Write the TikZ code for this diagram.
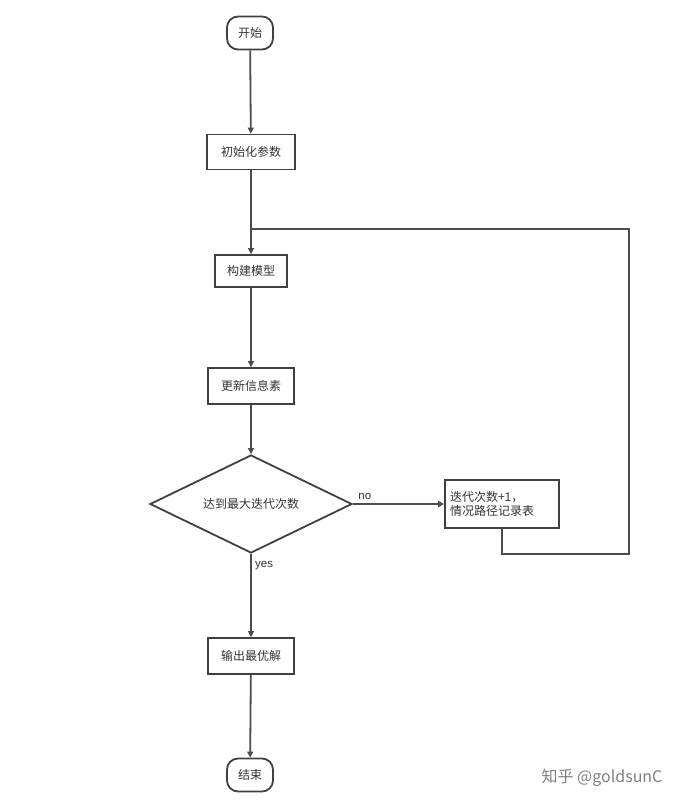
\documentclass[tikz,border=0pt]{standalone}
\usepackage{fontspec}
\setmainfont{Liberation Sans}
\newfontfamily\cjk{Noto Sans CJK SC}
\usetikzlibrary{positioning, arrows.meta, shapes.geometric}

\begin{document}
\begin{tikzpicture}[
    x=1pt, y=-1pt,
    % Styles
    flowline/.style={draw=black!70, line width=1.8pt},
    flowarrow/.style={-{Triangle[length=6pt,width=6pt]}, draw=black!70, line width=1.8pt},
    terminal/.style={draw=black!75, line width=1.8pt, rounded corners=11pt, minimum width=46pt, minimum height=33pt, inner sep=2pt, font=\cjk\fontsize{12}{14}\selectfont, text=black!80},
    process/.style={draw=black!75, line width=1.8pt, minimum height=35pt, inner sep=2pt, font=\cjk\fontsize{12}{14}\selectfont, text=black!80},
    decision/.style={draw=black!75, line width=1.8pt, diamond, aspect=2.05, minimum width=202pt, minimum height=98pt, inner sep=0pt, font=\cjk\fontsize{12}{14}\selectfont, text=black!80},
    tag/.style={font=\fontsize{11.5}{13}\selectfont, text=black!80},
]
\useasboundingbox (0,0) rectangle (695,811);

% Main column
\node[terminal] (start) at (250,33) {开始};
\node[process, minimum width=88pt] (init) at (251,152) {初始化参数};
\node[process, minimum width=72pt, minimum height=32pt] (model) at (251,271) {构建模型};
\node[process, minimum width=86pt, minimum height=36pt] (update) at (251,386) {更新信息素};
\node[decision] (check) at (251,504) {达到最大迭代次数};
\node[process, minimum width=114pt, minimum height=48pt, align=left, text width=104pt] (count) at (502,504) {迭代次数+1，\\情况路径记录表};
\node[process, minimum width=86pt, minimum height=36pt] (output) at (251,656) {输出最优解};
\node[terminal] (stop) at (250,775) {结束};

% Connectors
\draw[flowarrow] (start) -- (init);
\draw[flowarrow] (init) -- (model);
\draw[flowarrow] (model) -- (update);
\draw[flowarrow] (update) -- (check);
\draw[flowarrow] (check) -- node[tag, above, pos=0.13] {no} (count);
\draw[flowarrow] (check) -- node[tag, right, pos=0.14] {yes} (output);
\draw[flowarrow] (output) -- (stop);

% Loop back
\coordinate (join) at (251,229);
\draw[flowline] (count.south) -- ++(0,25) -| (629,229) -- (join);

% Watermark
\node[font=\cjk\fontsize{16}{18}\selectfont, text=black!50] (mark) at (602,778) {知乎 @goldsunC};
\end{tikzpicture}
\end{document}
